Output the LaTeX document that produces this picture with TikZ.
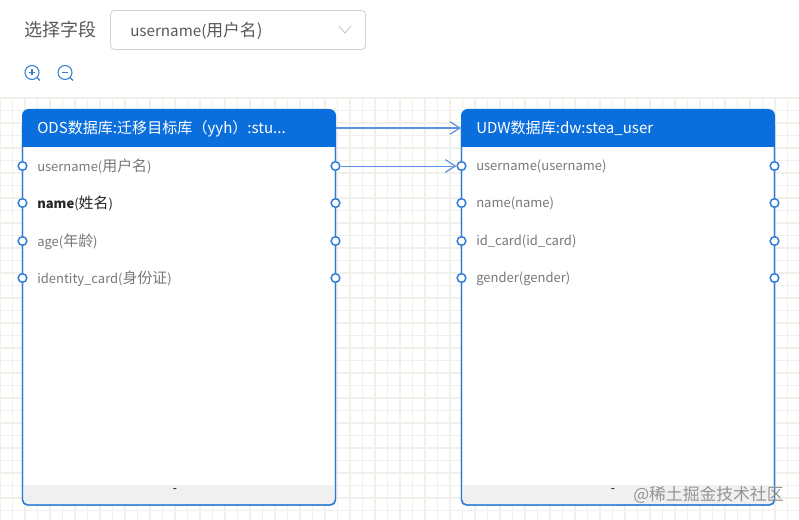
\documentclass[tikz,border=0pt]{standalone}
\usepackage{fontspec}
\setmainfont{Noto Sans CJK SC}
\usetikzlibrary{arrows.meta,positioning}
\definecolor{tablecol}{HTML}{0A6FDC}
\definecolor{linecol}{HTML}{2F7CD6}
\definecolor{edgecol}{HTML}{5B93E2}
\definecolor{gridcol}{HTML}{F0F1EA}
\definecolor{textcol}{HTML}{787878}
\def\zh#1{{\fontsize{11.2pt}{12pt}\selectfont #1}}
\tikzset{
	fieldtext/.style={anchor=west, inner sep=0pt, font=\fontsize{9.75pt}{12pt}\selectfont, text=textcol},
	porthole/.style={circle, draw=linecol, fill=white, line width=1.1pt, inner sep=0pt, minimum size=6.5pt},
	tablehead/.style={anchor=west, inner sep=0pt, font=\fontsize{11.3pt}{14pt}\selectfont, text=white},
	edgeline/.style={draw=edgecol, -{Straight Barb[length=7.5pt,width=9.5pt,line width=0.9pt]}}
}
\begin{document}
\begin{tikzpicture}[x=0.75pt,y=-0.75pt]
	\useasboundingbox (0, 0) rectangle (799, 520);
	
	%%%%% grid
	\foreach \gk in {0, ..., 63} \draw[gridcol, line width=0.8pt] (\gk*12.5, 98) -- (\gk*12.5, 520);
	\foreach \gk in {0, ..., 33} \draw[gridcol, line width=0.8pt] (0, 98+\gk*12.5) -- (799, 98+\gk*12.5);
	
	%%%%% top controls
	\node[anchor=west, inner sep=0pt, font=\fontsize{13.5pt}{15pt}\selectfont, text=black!65] (selectlabel) at (24, 30) {选择字段};
	\draw[black!18, line width=0.6pt, rounded corners=3pt] (110.5, 10.5) rectangle (365.5, 49.5);
	\node[anchor=west, inner sep=0pt, font=\fontsize{11.4pt}{14pt}\selectfont, text=black!65] (selectvalue) at (130, 31) {username(\fontsize{12.6pt}{14pt}\selectfont 用户名)};
	\draw[black!25, line width=0.6pt] (339, 26) -- (345, 33) -- (351, 26);
	
	\draw[linecol, line width=0.8pt] (32, 72.5) circle (7);
	\draw[linecol, line width=0.8pt] (37, 77.5) -- (40, 80.5);
	\draw[linecol, line width=0.8pt] (29, 72.5) -- (35, 72.5) (32, 69.5) -- (32, 75.5);
	\draw[linecol, line width=0.8pt] (65, 72.5) circle (7);
	\draw[linecol, line width=0.8pt] (70, 77.5) -- (73, 80.5);
	\draw[linecol, line width=0.8pt] (62, 72.5) -- (68, 72.5);
	
	%%%%% left table
	\draw[fill=white, draw=linecol, line width=1.1pt, rounded corners=4pt] (22.5, 120) rectangle (335.5, 505);
	\fill[black!6] (23, 485) -- (335, 485) -- (335, 501) arc (0:90:3) -- (26, 504.5) arc (90:180:3) -- cycle;
	\draw[draw=linecol, line width=1.1pt, rounded corners=4pt] (22.5, 120) rectangle (335.5, 505);
	\fill[tablecol, rounded corners=5pt] (22, 109) rectangle (336, 130);
	\fill[tablecol] (22, 122) rectangle (336, 147);
	\node[tablehead] (srchead) at (37, 128.5) {ODS数据库:迁移目标库（yyh）:stu...};
	\node[inner sep=0pt, font=\small] (srcfoot) at (175, 491) {-};
	
	\node[fieldtext] (srcuser) at (37, 166.5) {username(\zh{用户名})};
	\node[fieldtext, text=black!85] (srcname) at (37, 203.5) {\bfseries name\mdseries(\zh{姓名})};
	\node[fieldtext] (srcage) at (37, 241.5) {age(\zh{年龄})};
	\node[fieldtext] (srcid) at (37, 278.5) {identity\_card(\zh{身份证})};
	
	%%%%% right table
	\draw[fill=white, draw=linecol, line width=1.1pt, rounded corners=4pt] (461.5, 120) rectangle (774.5, 505);
	\fill[black!6] (462, 485) -- (774, 485) -- (774, 501) arc (0:90:3) -- (465, 504.5) arc (90:180:3) -- cycle;
	\draw[draw=linecol, line width=1.1pt, rounded corners=4pt] (461.5, 120) rectangle (774.5, 505);
	\fill[tablecol, rounded corners=5pt] (461, 109) rectangle (775, 130);
	\fill[tablecol] (461, 122) rectangle (775, 147);
	\node[tablehead] (dsthead) at (476, 128.5) {UDW数据库:dw:stea\_user};
	\node[inner sep=0pt, font=\small] (dstfoot) at (613, 491) {-};
	
	\node[fieldtext] (dstuser) at (476, 166.5) {username(username)};
	\node[fieldtext] (dstname) at (476, 203.5) {name(name)};
	\node[fieldtext] (dstid) at (476, 241.5) {id\_card(id\_card)};
	\node[fieldtext] (dstgender) at (476, 278.5) {gender(gender)};
	
	%%%%% ports
	\foreach \py [count=\pi] in {166, 203, 241, 278} {
		\node[porthole] (srcl\pi) at (22.5, \py) {};
		\node[porthole] (srcr\pi) at (335.5, \py) {};
		\node[porthole] (dstl\pi) at (461.5, \py) {};
		\node[porthole] (dstr\pi) at (774.5, \py) {};
	}
	
	%%%%% edges
	\coordinate (srcedge) at (336, 128);
	\coordinate (dstedge) at (461, 128);
	\draw[edgeline, line width=1pt] (srcedge) -- (dstedge);
	\draw[edgeline, line width=0.7pt] (srcr1) -- (dstl1);
	
	%%%%% watermark
	\node[anchor=west, inner sep=0pt, font=\fontsize{12.6pt}{14pt}\selectfont, text=black!42] (mark) at (633, 495) {@稀土掘金技术社区};
\end{tikzpicture}
\end{document}
